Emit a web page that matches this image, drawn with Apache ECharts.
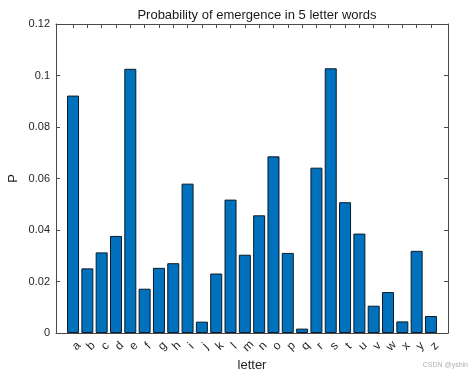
<!DOCTYPE html>
<html>
<head>
<meta charset="utf-8">
<script src="https://cdn.jsdelivr.net/npm/echarts@6/dist/echarts.min.js"></script>
<style>html,body{margin:0;padding:0;background:#fff}#c{width:474px;height:374px}</style>
</head>
<body>
<div id="c"></div>
<script>
var letters = ['a','b','c','d','e','f','g','h','i','j','k','l','m','n','o','p','q','r','s','t','u','v','w','x','y','z'];
var probs = [0.0922,0.0251,0.0313,0.0377,0.1026,0.0172,0.0253,0.0271,0.0580,0.0044,0.0231,0.0518,0.0304,0.0457,0.0686,0.0311,0.0017,0.0642,0.1028,0.0508,0.0386,0.0106,0.0159,0.0045,0.0319,0.0066];
var yTicks = [0, 0.02, 0.04, 0.06, 0.08, 0.1, 0.12];
var titleText = 'Probability of emergence in 5 letter words';

var idx = letters.map(function(_, i){ return i; });
var labelPos = idx.map(function(i){ return i + 0.25; });
var chart = echarts.init(document.getElementById('c'), null, {renderer:'canvas'});
var axisColor = '#4a4a4a';
var font = 'Liberation Sans, Arial, sans-serif';
var xBase = {
  type:'value', min:-1.19, max:26.19,
  axisLine:{show:true, onZero:false, lineStyle:{color:axisColor, width:1}},
  splitLine:{show:false}
};
chart.setOption({
  animation:false,
  title:{text:titleText, left:252, top:4, textAlign:'center',
    textStyle:{fontFamily:font, fontSize:13, fontWeight:'normal', color:'#1a1a1a'}},
  grid:{left:56, right:26, top:24, bottom:41, containLabel:false, outerBoundsMode:'none'},
  xAxis:[
    Object.assign({}, xBase, {
      position:'bottom', name:'letter', nameLocation:'middle', nameGap:26, nameMoveOverlap:false,
      nameTextStyle:{fontFamily:font, fontSize:13, color:'#262626'},
      axisTick:{show:true, inside:true, length:4, customValues:idx, lineStyle:{color:axisColor}},
      axisLabel:{show:true, customValues:labelPos, rotate:45, margin:13, align:'center', verticalAlign:'middle',
        fontFamily:font, fontSize:12, color:'#262626',
        formatter:function(v){ return letters[Math.round(v - 0.25)] || ''; }}
    }),
    Object.assign({}, xBase, {
      position:'top',
      axisTick:{show:true, inside:true, length:4, customValues:idx, lineStyle:{color:axisColor}},
      axisLabel:{show:false}
    })
  ],
  yAxis:[
    {type:'value', min:0, max:0.12, interval:0.02, position:'left',
      name:'P', nameLocation:'middle', nameGap:36, nameRotate:90, nameMoveOverlap:false,
      nameTextStyle:{fontFamily:font, fontSize:13, color:'#262626'},
      axisLine:{show:true, onZero:false, lineStyle:{color:axisColor}},
      axisTick:{show:true, inside:true, length:4, lineStyle:{color:axisColor}},
      splitLine:{show:false},
      axisLabel:{fontFamily:font, fontSize:11, color:'#262626', margin:6,
        formatter:function(v){ return String(Math.round(v*100)/100); }}},
    {type:'value', min:0, max:0.12, interval:0.02, position:'right',
      axisLine:{show:true, onZero:false, lineStyle:{color:axisColor}},
      axisTick:{show:true, inside:true, length:4, lineStyle:{color:axisColor}},
      splitLine:{show:false}, axisLabel:{show:false}}
  ],
  series:[{
    type:'bar', xAxisIndex:0, yAxisIndex:0, barWidth:12,
    data: probs.map(function(p, i){ return [i, p]; }),
    itemStyle:{color:'#0072BD', borderColor:'#0a1a2a', borderWidth:1}
  }],
  graphic:[{type:'text', right:6, bottom:5,
    style:{text:'CSDN @yshin', fontSize:7, fontFamily:font, fill:'#b0b0b0'}}]
});
</script>
</body>
</html>
